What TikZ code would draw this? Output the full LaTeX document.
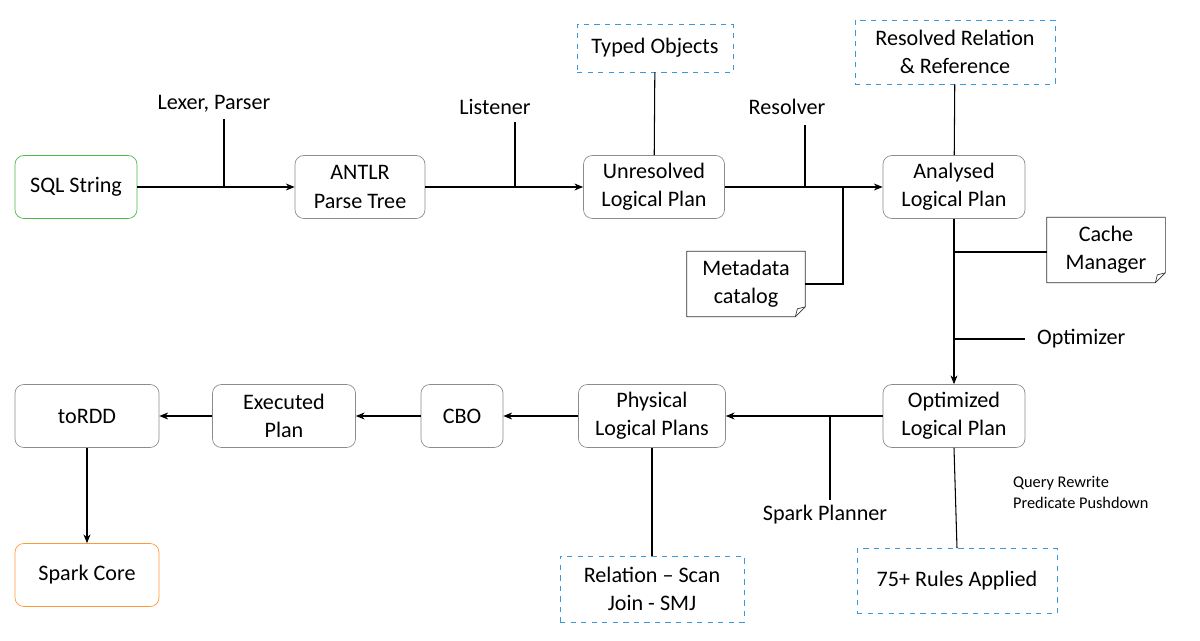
\documentclass[tikz,border=0pt]{standalone}
\usepackage{fontspec}
\setmainfont{Carlito}
\usetikzlibrary{arrows.meta}
\begin{document}
\begin{tikzpicture}[x=0.02cm,y=-0.02cm,
  font=\fontsize{12.6}{16}\selectfont,
  box/.style={draw=black!45,rounded corners=5pt,minimum width=#1*0.02cm,minimum height=1.26cm,align=center,inner sep=1pt},
  dbox/.style={draw=cyan!70!blue!80,dashed,minimum width=#1*0.02cm,align=center},
  note/.style={minimum width=2.36cm,minimum height=1.3cm,align=center},
  ln/.style={black,line width=0.6pt},
  arr/.style={ln,-{Stealth[length=5pt,width=4pt]}},
  lbl/.style={inner sep=1pt}]
\useasboundingbox (0,0) rectangle (1200,641);
% nodes
\node[box=122,draw=green!60!black!70] (sql) at (76,187) {SQL String};
\node[box=130] (antlr) at (360,187) {ANTLR\\Parse Tree};
\node[box=141] (unres) at (654,187) {Unresolved\\Logical Plan};
\node[box=142] (anal) at (954,187) {Analysed\\Logical Plan};
\node[dbox=156,minimum height=0.96cm] (typed) at (655,48) {Typed Objects};
\node[dbox=200,minimum height=1.28cm] (resref) at (955,52) {Resolved Relation\\\& Reference};
\node[note] (meta) at (746,284) {Metadata\\catalog};
\node[note] (cache) at (1106,250) {Cache\\Manager};
\foreach \n in {meta,cache}{
  \draw[black!80] (\n.north west) -- (\n.north east) -- ([yshift=0.2cm]\n.south east) -- ([xshift=-0.2cm]\n.south east) -- (\n.south west) -- cycle;
  \draw[black!80] ([yshift=0.2cm]\n.south east) -- ([xshift=-0.16cm,yshift=0.16cm]\n.south east) -- ([xshift=-0.2cm]\n.south east);
}
\node[box=142] (opt) at (954,416) {Optimized\\Logical Plan};
\node[box=147] (phys) at (652,416) {Physical\\Logical Plans};
\node[box=82] (cbo) at (462,416) {CBO};
\node[box=143] (exec) at (284,416) {Executed\\Plan};
\node[box=144] (tordd) at (87,416) {toRDD};
\node[box=144,draw=orange!80] (core) at (87,575) {Spark Core};
\node[dbox=184,minimum height=1.32cm] (rel) at (652,589) {Relation -- Scan\\Join - SMJ};
\node[dbox=200,minimum height=1.3cm] (rules) at (957,581) {75+ Rules Applied};
% labels
\node[lbl] (llex) at (214,104) {Lexer, Parser};
\node[lbl] (llis) at (495,107) {Listener};
\node[lbl] (lres) at (787,107) {Resolver};
\node[lbl,anchor=west] (lopt) at (1035,339) {Optimizer};
\node[lbl] (lsp) at (825,515) {Spark Planner};
\node[lbl,align=left,font=\fontsize{9.3}{12}\selectfont,anchor=west] (lqr) at (1011,492) {Query Rewrite\\Predicate Pushdown};
% coordinates
\coordinate (c1) at (224,187); \coordinate (c1t) at (224,119);
\coordinate (c2) at (515,187); \coordinate (c2t) at (515,122);
\coordinate (c3) at (805,187); \coordinate (c3t) at (805,125);
\coordinate (c4) at (843,187); \coordinate (c4b) at (843,284);
\coordinate (c5) at (955,252);
\coordinate (c6) at (955,339); \coordinate (c6r) at (1025,339);
\coordinate (c7) at (830,416); \coordinate (c7b) at (830,500);
% connectors
\draw[arr] (sql) -- (antlr);
\draw[ln] (c1t) -- (c1);
\draw[arr] (antlr) -- (unres);
\draw[ln] (c2t) -- (c2);
\draw[arr] (unres) -- (anal);
\draw[ln] (c3t) -- (c3);
\draw[ln] (meta.east) -- (c4b) -- (c4);
\draw[ln] (typed) -- (unres);
\draw[ln] (resref) -- (anal);
\draw[ln] (c5) -- (c5 -| cache.west);
\draw[arr] (anal) -- (opt);
\draw[ln] (c6) -- (c6r);
\draw[arr] (opt) -- (phys);
\draw[ln] (c7) -- (c7b);
\draw[ln] (opt.south) -- (rules.north);
\draw[ln] (phys) -- (rel);
\draw[arr] (phys) -- (cbo);
\draw[arr] (cbo) -- (exec);
\draw[arr] (exec) -- (tordd);
\draw[arr] (tordd) -- (core);
\end{tikzpicture}
\end{document}
